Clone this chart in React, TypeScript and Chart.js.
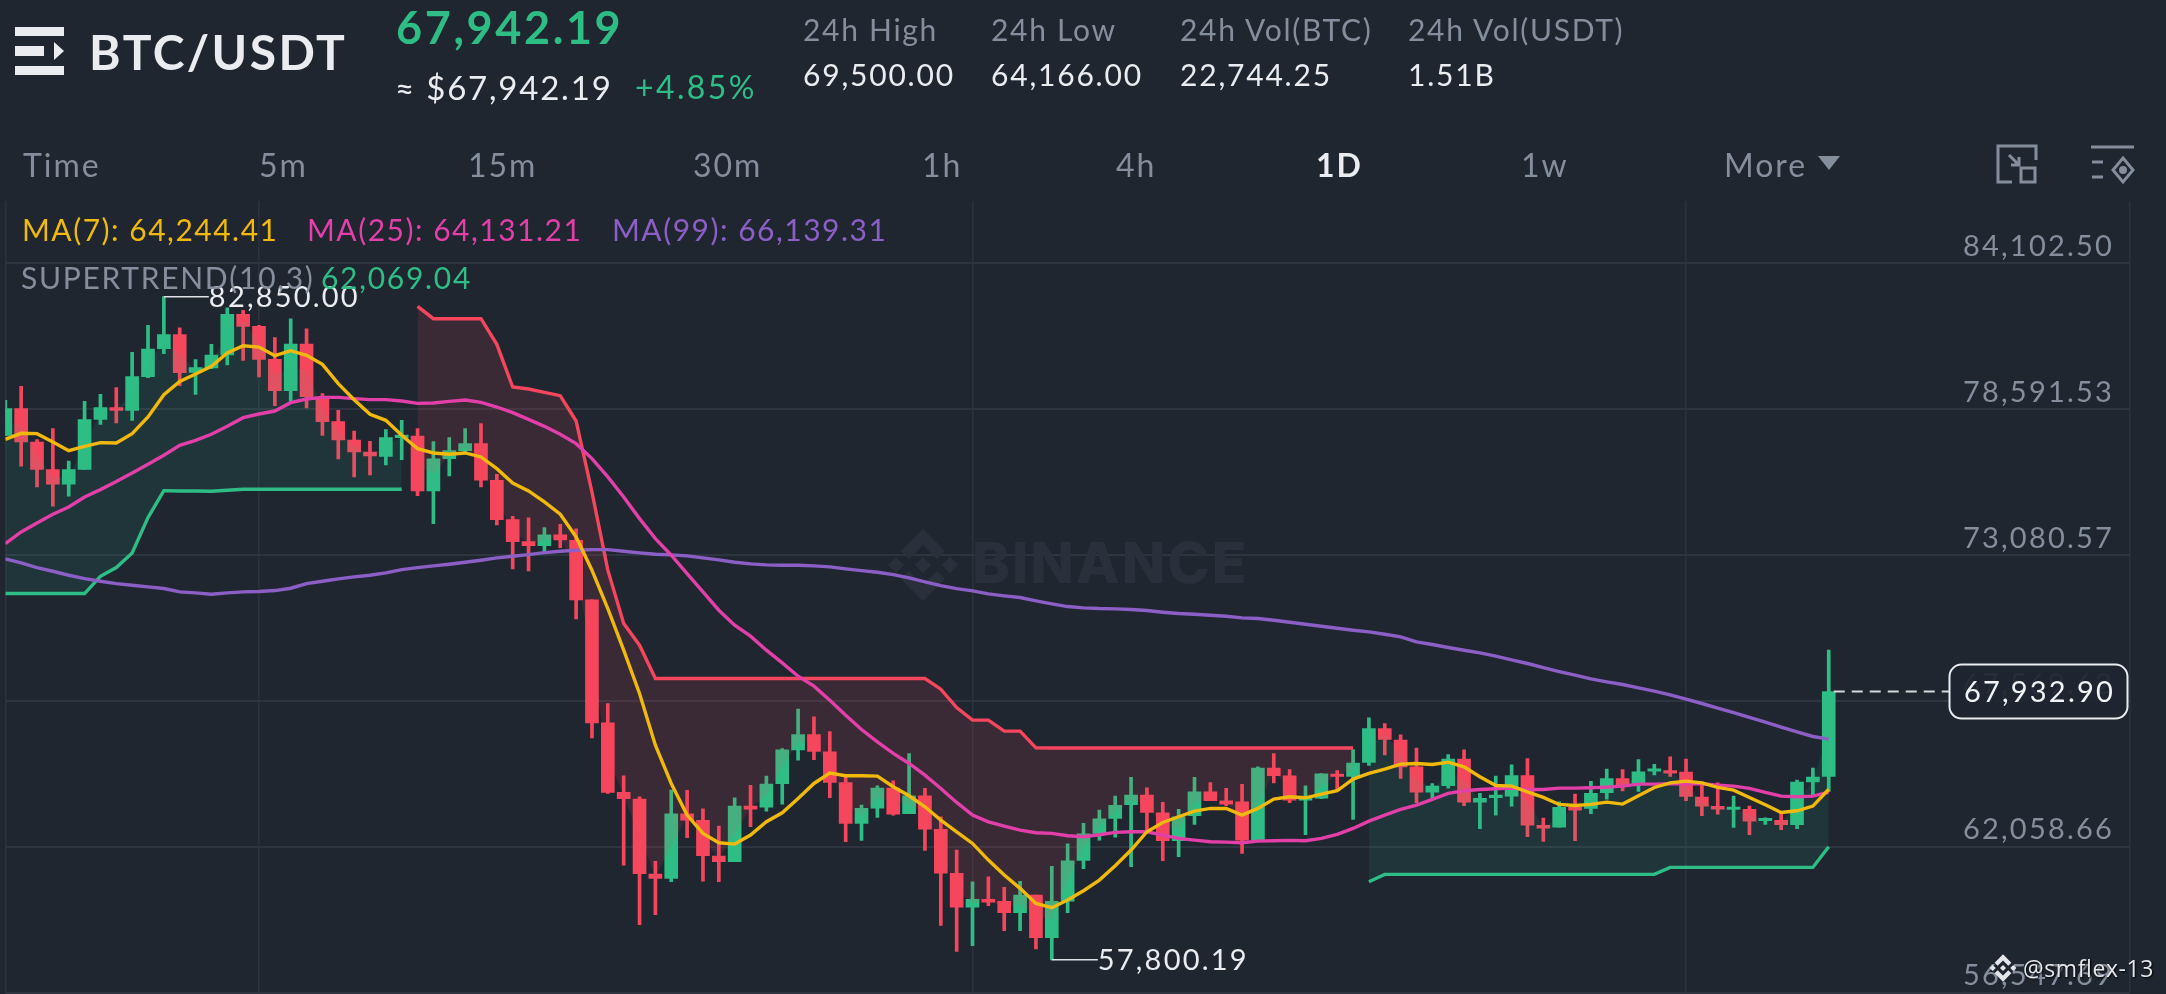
import React, { useEffect, useRef } from "react";
import { Chart, registerables } from "chart.js";

Chart.register(...registerables);

const opens = [77612,78619,77360,76316,75762,76328,78216,78656,78556,79827,80883,81412,79990,80154,80644,82180,81727,80481,79298,81060,79059,78128,77436,76983,76819,77524,77587,75511,76731,77033,77297,75913,74428,73598,73447,73850,73648,71396,66752,64123,63871,61040,60876,63317,63066,61719,61505,63607,63569,64450,65733,66312,65658,64500,62952,63531,64286,63317,63997,62726,61065,59794,60083,60008,59580,60247,58636,60020,61556,62575,63141,63657,64022,63355,62298,63242,64148,63808,63770,62323,65041,64752,63833,63909,64815,64727,65255,66539,66098,65091,64135,64374,65381,63758,63921,63984,64764,62877,62814,63556,63519,64110,64651,64425,64928,64953,64890,63946,63594,63481,63481,63053,63066,62902,64525,64727];
const highs = [78933,79462,77448,77864,76643,78895,79160,79411,80745,81764,82850,81676,80468,81047,82431,82331,81764,81299,82016,81638,79185,78556,77775,77385,77826,78178,77864,77373,77524,77864,78052,76140,74554,74491,74126,74252,74076,71396,67482,64752,63959,61518,64211,64198,63506,62852,63921,64387,64739,65784,67268,66979,66425,64714,63644,64374,64563,65595,64274,63204,61946,60750,60939,60536,60763,60247,61329,62185,62952,63456,63984,64689,64299,63745,63481,64689,64500,64274,64425,65091,65595,64991,64374,64840,64953,65746,66941,66727,66299,65796,64462,65557,65733,64085,64739,65167,65406,63154,63770,64060,64538,65003,64991,65368,65180,65469,65381,64525,64487,63984,63607,63166,63330,64588,65041,69500];
const lows = [77612,76442,75662,74932,75309,76328,78027,78077,78178,79789,80695,79487,79160,80128,80267,80443,79814,78732,78895,78644,77612,76719,76039,76115,76492,76693,75334,74277,76077,76970,75662,74227,72566,72491,73145,73371,70679,66186,64085,61380,59127,59505,60750,62411,60776,60750,61505,62827,63418,63682,65343,65356,63921,62260,62311,63179,63267,63317,61933,59102,58121,58334,59844,58901,58901,58209,57800.19,59580,61241,62323,62436,61317,62638,61543,61694,62915,63808,63619,61820,62323,64487,63733,62525,63883,64211,63103,65142,65544,64651,63733,63909,64286,63619,62751,63267,63607,62449,62273,62814,62298,63317,63871,64185,64160,64789,64727,63808,63242,63305,62801,62525,62915,62713,62751,64022,64166];
const closes = [78619,77360,76328,75762,76316,78203,78656,78556,79827,80871,81412,79978,80166,80644,82180,81727,80481,79298,81060,79072,78128,77436,76983,76832,77524,77624,75511,76719,77033,77297,75913,74428,73598,73447,73850,73661,71396,66752,64123,63884,61052,60876,63317,63078,61732,61505,63607,63493,64437,65733,66312,65670,64500,62952,63519,64286,63305,63997,62738,61077,59794,60083,59983,59580,60247,58636,60008,61543,62562,63129,63632,64022,63368,62298,63204,64148,63808,63682,62323,65041,64752,63833,63921,64827,64727,65230,66539,66123,65091,64135,64362,65381,63758,63896,64022,64764,62889,62776,63556,63456,64085,64651,64374,64903,65016,64852,63972,63607,63493,63569,63040,63141,62902,64513,64701,67932.9];

const ma7 = [77461,77687,77675,77360,77033,77197,77335,77322,77675,78304,79147,79650,79927,80217,80720,80997,80946,80619,80808,80632,80292,79562,78958,78405,78178,77612,77109,76945,76895,76945,76794,76353,75812,75511,75095,74630,73774,72516,71069,69496,67860,65909,64462,63267,62575,62223,62172,62512,63015,63355,63896,64462,64852,64752,64752,64739,64337,63997,63581,63078,62638,62197,61568,61002,60499,59932,59769,60058,60411,60813,61354,61946,62638,62990,63204,63418,63519,63519,63267,63519,63871,63959,63921,64060,64186,64626,64840,65003,65192,65217,65180,65268,65091,64714,64387,64362,64148,63934,63670,63632,63670,63758,63682,63997,64311,64487,64550,64487,64311,64211,63934,63657,63368,63431,63607,64244.41];
const ma25 = [73523,73963,74303,74630,74906,75284,75561,75863,76190,76517,76857,77234,77423,77650,77951,78279,78417,78530,78845,78983,79046,79046,78996,78958,78958,78908,78820,78832,78895,78946,78858,78681,78468,78216,77951,77650,77297,76731,76039,75284,74466,73711,73082,72390,71698,71006,70439,70024,69496,69017,68514,68137,67608,67042,66501,66035,65595,65217,64777,64274,63745,63267,63015,62852,62701,62600,62575,62487,62449,62524,62613,62638,62638,62512,62386,62323,62260,62248,62222,62285,62298,62311,62298,62386,62537,62764,63040,63267,63481,63644,63859,64085,64185,64236,64261,64286,64236,64236,64286,64286,64299,64324,64362,64437,64437,64450,64450,64450,64400,64362,64274,64123,63984,63959,63984,64131.21];
const ma99 = [72944,72793,72616,72478,72327,72201,72100,72012,71949,71887,71824,71698,71660,71610,71660,71698,71711,71748,71836,72012,72100,72189,72264,72327,72415,72541,72616,72679,72742,72818,72893,72981,73044,73107,73183,73233,73271,73296,73296,73233,73170,73120,73095,73057,72981,72906,72818,72755,72717,72705,72705,72679,72641,72566,72503,72440,72352,72226,72075,71937,71823,71735,71622,71547,71484,71358,71245,71144,71094,71068,71056,71031,70993,70930,70880,70855,70817,70779,70716,70691,70628,70553,70477,70402,70326,70251,70188,70100,70000,69810,69709,69596,69495,69395,69269,69131,68992,68841,68690,68552,68413,68300,68200,68074,67948,67809,67646,67482,67306,67142,66954,66778,66589,66413,66236,66139.31];

const supertrendUpEarly = [71635,71635,71635,71635,71635,71635,72289,72616,73170,74504,75523,75511,75511,75498,75536,75574,75574,75574,75574,75574,75574,75574,75574,75574,75574,75574];
const supertrendDown = [82482,82016,82016,82016,82016,81047,79436,79361,79235,79109,78153,75470,72520,70500,69684,68426,68426,68426,68426,68426,68426,68426,68426,68426,68426,68426,68426,68426,68426,68426,68426,68426,68426,68023,67331,66853,66853,66438,66438,65809,65800,65800,65800,65800,65800,65800,65800,65800,65800,65800,65800,65800,65800,65800,65800,65800,65800,65800,65800,65800];
const supertrendUpLate = [60751,61027,61027,61027,61027,61027,61027,61027,61027,61027,61027,61027,61027,61027,61027,61027,61027,61027,61027,61291,61291,61291,61291,61291,61291,61291,61291,61291,61291,62069.04];

const priceTicks = [56547.69, 62058.66, 67569.62, 73080.57, 78591.53, 84102.5];
const dayGrid = [0, 16, 61, 106, 134];
const dayMax = 134;
const priceMin = 56547.69;
const priceMax = 86462;
const highDay = 10;
const lowDay = 66;
const highPrice = 82850;
const lowPrice = 57800.19;
const lastPrice = 67932.9;

const UP = "#2ebd85";
const DOWN = "#f6465d";
const BG = "#1f2630";
const GREY = "#848e9c";
const WHITE = "#eaecef";
const NUM = "Lato, sans-serif";
const money = (v: number) => v.toLocaleString("en-US", { minimumFractionDigits: 2, maximumFractionDigits: 2 });

function logo(ctx: CanvasRenderingContext2D, cx: number, cy: number, s: number, color: string) {
  const diamond = (x: number, y: number, r: number) => {
    ctx.beginPath();
    ctx.moveTo(x, y - r); ctx.lineTo(x + r, y); ctx.lineTo(x, y + r); ctx.lineTo(x - r, y);
    ctx.closePath(); ctx.fill();
  };
  const chevron = (d: number) => {
    ctx.beginPath();
    ctx.moveTo(cx, cy + d * 36 * s);
    ctx.lineTo(cx + 22 * s, cy + d * 14 * s);
    ctx.lineTo(cx + 14 * s, cy + d * 6 * s);
    ctx.lineTo(cx, cy + d * 20 * s);
    ctx.lineTo(cx - 14 * s, cy + d * 6 * s);
    ctx.lineTo(cx - 22 * s, cy + d * 14 * s);
    ctx.closePath(); ctx.fill();
  };
  ctx.fillStyle = color;
  diamond(cx, cy, 8 * s);
  diamond(cx - 27 * s, cy, 8 * s);
  diamond(cx + 27 * s, cy, 8 * s);
  chevron(-1);
  chevron(1);
}

const spacingPlugin = {
  id: "spacing",
  beforeDraw(chart: any) {
    chart.ctx.letterSpacing = "2.2px";
  },
};

const watermarkPlugin = {
  id: "watermark",
  beforeDatasetsDraw(chart: any) {
    const ctx = chart.ctx;
    ctx.save();
    logo(ctx, 923, 565, 1, "#2a303b");
    ctx.letterSpacing = "2px";
    ctx.font = "800 57px Inter, sans-serif";
    ctx.fillStyle = "#2a303b";
    ctx.textBaseline = "middle";
    ctx.textAlign = "left";
    ctx.fillText("BINANCE", 972, 566);
    ctx.restore();
  },
};

const labelsPlugin = {
  id: "labels",
  afterDatasetsDraw(chart: any) {
    const ctx = chart.ctx;
    const x = chart.scales.x;
    const y = chart.scales.y;
    ctx.save();
    ctx.font = `400 29px ${NUM}`;
    ctx.textBaseline = "middle";
    ctx.textAlign = "left";
    ctx.strokeStyle = "#dfe2e6";
    ctx.fillStyle = "#eaecef";
    ctx.lineWidth = 1.5;

    const hx = x.getPixelForValue(highDay);
    const hy = y.getPixelForValue(highPrice);
    ctx.beginPath(); ctx.moveTo(hx, hy); ctx.lineTo(hx + 45, hy); ctx.stroke();
    ctx.fillText(money(highPrice), hx + 45, hy + 1);

    const lx = x.getPixelForValue(lowDay);
    const ly = y.getPixelForValue(lowPrice);
    ctx.beginPath(); ctx.moveTo(lx, ly); ctx.lineTo(lx + 46, ly); ctx.stroke();
    ctx.fillText(money(lowPrice), lx + 46, ly + 1);

    const px = x.getPixelForValue(opens.length - 1);
    const py = y.getPixelForValue(lastPrice);
    ctx.lineWidth = 2;
    ctx.setLineDash([11, 7]);
    ctx.strokeStyle = "#d5d8dc";
    ctx.beginPath(); ctx.moveTo(px + 5, py); ctx.lineTo(1949, py); ctx.stroke();
    ctx.setLineDash([]);
    ctx.beginPath();
    ctx.roundRect(1949.5, py - 27, 178, 54, 12);
    ctx.fillStyle = "rgba(31,38,48,0.93)";
    ctx.fill();
    ctx.strokeStyle = "#eaecef";
    ctx.stroke();
    ctx.fillStyle = "#f2f3f5";
    ctx.fillText(money(lastPrice), 1964, py + 1);
    logo(ctx, 2003, 968, 0.38, "#e4e6ea");
    ctx.restore();
  },
};

function Text(p: { x: number; y: number; s: number; c: string; w?: number; ls?: number; f?: string; children: React.ReactNode; shadow?: string }) {
  return (
    <span
      style={{
        position: "absolute",
        left: p.x,
        top: p.y,
        transform: "translateY(-50%)",
        fontFamily: p.f || NUM,
        fontSize: p.s,
        color: p.c,
        fontWeight: p.w || 400,
        letterSpacing: p.ls ?? 1.5,
        lineHeight: 1,
        whiteSpace: "nowrap",
        textShadow: p.shadow,
      }}
    >
      {p.children}
    </span>
  );
}

export default function App() {
  const ref = useRef<HTMLCanvasElement>(null);
  useEffect(() => {
    document.body.style.margin = "0";
    document.body.style.background = BG;
    const days = opens.map((_, i) => i);
    const colors = days.map((i) => (closes[i] >= opens[i] ? UP : DOWN));
    const mid = days.map((i) => (opens[i] + closes[i]) / 2);
    const stUp = [...supertrendUpEarly, ...supertrendDown.map(() => null), ...supertrendUpLate];
    const stDown = [...supertrendUpEarly.map(() => null), ...supertrendDown, ...supertrendUpLate.map(() => null)];
    const pts = (a: (number | null)[]) => a.map((y, x) => ({ x, y }));
    const line = (data: (number | null)[], color: string, order: number, extra: any = {}) => ({
      type: "line",
      data: pts(data),
      borderColor: color,
      borderWidth: 3.4,
      pointRadius: 0,
      tension: 0,
      fill: false,
      order,
      ...extra,
    });
    const chart = new Chart(ref.current as HTMLCanvasElement, {
      type: "bar",
      data: {
        datasets: [
          {
            data: days.map((i) => ({ x: i, y: [lows[i], highs[i]] })),
            backgroundColor: colors,
            barThickness: 3,
            grouped: false,
            order: 20,
          },
          {
            data: days.map((i) => ({ x: i, y: [opens[i], closes[i]] })),
            backgroundColor: colors,
            barThickness: 13,
            grouped: false,
            order: 19,
          },
          line(mid, "transparent", 18, { borderWidth: 0 }),
          line(stUp, UP, 7, { fill: { target: 2, above: "rgba(46,189,133,0.1)", below: "rgba(46,189,133,0.1)" } }),
          line(stDown, DOWN, 6, { fill: { target: 2, above: "rgba(246,70,93,0.12)", below: "rgba(246,70,93,0.12)" } }),
          line(ma99, "#8c5fc7", 5),
          line(ma25, "#e23fa9", 4),
          line(ma7, "#f0b90b", 3),
        ] as any,
      },
      options: {
        animation: false,
        responsive: false,
        devicePixelRatio: 1,
        layout: { padding: { left: 5.3, right: 36, top: 201, bottom: 1 } },
        plugins: { legend: { display: false }, tooltip: { enabled: false } },
        scales: {
          x: {
            type: "linear",
            min: 0,
            max: dayMax,
            offset: false,
            afterBuildTicks: (axis: any) => {
              axis.ticks = dayGrid.map((value) => ({ value }));
            },
            ticks: { display: false },
            border: { display: false },
            grid: { offset: false, color: "#2b323d", lineWidth: 1.5, drawTicks: false },
          },
          y: {
            type: "linear",
            position: "right",
            min: priceMin,
            max: priceMax,
            afterBuildTicks: (axis: any) => {
              axis.ticks = priceTicks.map((value) => ({ value }));
            },
            afterFit: (axis: any) => {
              axis.width = 0;
              axis.paddingTop = 0;
              axis.paddingBottom = 0;
            },
            ticks: {
              mirror: true,
              padding: -16,
              labelOffset: -17,
              crossAlign: "near",
              autoSkip: false,
              color: GREY,
              font: { family: NUM, size: 29 },
              callback: (v: any) => money(Number(v)),
            },
            border: { display: false },
            grid: { color: "#2e3540", lineWidth: 2, drawTicks: false },
          },
        } as any,
      },
      plugins: [spacingPlugin, watermarkPlugin, labelsPlugin],
    } as any);
    return () => chart.destroy();
  }, []);

  const tabs: [string, number, boolean?][] = [
    ["Time", 23], ["5m", 259], ["15m", 468], ["30m", 693], ["1h", 922], ["4h", 1116], ["1D", 1316, true], ["1w", 1521], ["More", 1724],
  ];
  const stats: [string, string, number][] = [
    ["24h High", "69,500.00", 803], ["24h Low", "64,166.00", 991], ["24h Vol(BTC)", "22,744.25", 1180], ["24h Vol(USDT)", "1.51B", 1408],
  ];

  return (
    <div style={{ position: "absolute", left: 0, top: 0, width: 2166, height: 994, background: BG, overflow: "hidden" }}>
      <canvas ref={ref} width={2166} height={994} style={{ position: "absolute", left: 0, top: 0, width: 2166, height: 994 }} />

      <svg width="2166" height="200" style={{ position: "absolute", left: 0, top: 0 }}>
        <rect x="15" y="27" width="49" height="9" fill={WHITE} />
        <rect x="15" y="46" width="29" height="10" fill={WHITE} />
        <path d="M54 42 L64 51 L54 60 Z" fill={WHITE} />
        <rect x="15" y="66" width="49" height="9" fill={WHITE} />
        <path d="M1818 156 H1840 L1829 170 Z" fill={GREY} />
        <g fill="none" stroke={GREY} strokeWidth="3">
          <path d="M2012 182 H1998 V146 H2036 V160" />
          <rect x="2021" y="168" width="14" height="14" />
          <path d="M2009 155 L2019 165 M2019 157 V165 H2011" />
          <path d="M2091 147 H2134 M2092 162 H2103 M2092 177 H2103" />
          <path d="M2123 158 L2133 170 L2123 182 L2113 170 Z" />
          <circle cx="2123" cy="170" r="2.5" fill={GREY} />
        </g>
      </svg>

      <Text x={89} y={52} s={48} c={WHITE} w={700} ls={2.4}>BTC/USDT</Text>
      <Text x={396} y={27} s={45} c={UP} w={700} ls={2.6}>67,942.19</Text>
      <Text x={395} y={87} s={33} c={WHITE} ls={1.8}>≈ $67,942.19</Text>
      <Text x={635} y={87} s={32} c={UP} ls={2.4}>+4.85%</Text>
      {stats.map(([label, value, x]) => (
        <React.Fragment key={label}>
          <Text x={x} y={29} s={30} c={GREY} ls={1.7}>{label}</Text>
          <Text x={x} y={74} s={30} c={WHITE} ls={1.8}>{value}</Text>
        </React.Fragment>
      ))}
      {tabs.map(([label, x, on]) => (
        <Text key={label} x={x} y={165} s={32} c={on ? WHITE : GREY} w={on ? 700 : 400} ls={2}>{label}</Text>
      ))}
      <Text x={22} y={228.5} s={30} c="#f0b90b">MA(7): 64,244.41</Text>
      <Text x={307} y={228.5} s={30} c="#e23fa9">MA(25): 64,131.21</Text>
      <Text x={612} y={228.5} s={30} c="#8c5fc7">MA(99): 66,139.31</Text>
      <Text x={21} y={277} s={30} c={GREY} ls={1.7}>SUPERTREND(10,3)</Text>
      <Text x={321} y={277} s={30} c={UP} ls={1.7}>62,069.04</Text>
      <Text x={2023} y={968} s={23} c="#e4e6ea" f="'Open Sans', sans-serif" ls={0.6} shadow="1px 1px 2px #000">@smflex-13</Text>
    </div>
  );
}
